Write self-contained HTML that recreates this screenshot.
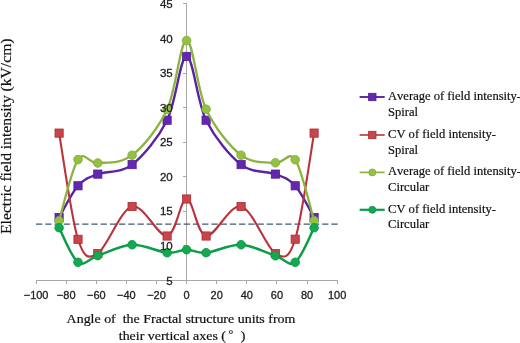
<!DOCTYPE html>
<html><head><meta charset="utf-8"><title>chart</title>
<style>
html,body{margin:0;padding:0;background:#fff;}
#c{position:relative;width:520px;height:343px;overflow:hidden;background:#fff;}
.t{position:absolute;white-space:nowrap;color:#1a1a1a;font-kerning:none;}
.yl,.xl{font-family:"Liberation Sans",sans-serif;font-size:11px;line-height:12px;color:#222;-webkit-text-stroke:0.3px #222;}
.yl{text-align:right;width:30px;font-size:11.5px;}
.xl{text-align:center;width:40px;}
.lg{font-family:"Liberation Serif",serif;font-size:12.4px;line-height:15.5px;color:#111;transform-origin:0 0;transform:scaleX(1.015);-webkit-text-stroke:0.2px #111;}
.ax{font-family:"Liberation Serif","Noto Serif CJK SC",serif;font-size:12.4px;line-height:16.4px;text-align:center;color:#111;transform-origin:50% 0;transform:scaleX(1.125);-webkit-text-stroke:0.2px #111;}
.ya{font-family:"Liberation Serif",serif;font-size:15.7px;word-spacing:-0.3px;line-height:18px;color:#111;transform-origin:0 0;transform:rotate(-90deg) scaleY(0.94);-webkit-text-stroke:0.2px #111;}
</style></head><body><div id="c">
<svg width="520" height="343" viewBox="0 0 520 343" style="position:absolute;left:0;top:0">
<g stroke="#a8a8a8" stroke-width="1" fill="none" shape-rendering="crispEdges">
<line x1="36.1" y1="280.4" x2="337.1" y2="280.4"/>
<line x1="186.6" y1="3.9" x2="186.6" y2="280.4"/>
<line x1="36.1" y1="280.4" x2="36.1" y2="283.9"/>
<line x1="66.2" y1="280.4" x2="66.2" y2="283.9"/>
<line x1="96.3" y1="280.4" x2="96.3" y2="283.9"/>
<line x1="126.4" y1="280.4" x2="126.4" y2="283.9"/>
<line x1="156.5" y1="280.4" x2="156.5" y2="283.9"/>
<line x1="186.6" y1="280.4" x2="186.6" y2="283.9"/>
<line x1="216.7" y1="280.4" x2="216.7" y2="283.9"/>
<line x1="246.8" y1="280.4" x2="246.8" y2="283.9"/>
<line x1="276.9" y1="280.4" x2="276.9" y2="283.9"/>
<line x1="307.0" y1="280.4" x2="307.0" y2="283.9"/>
<line x1="337.1" y1="280.4" x2="337.1" y2="283.9"/>
<line x1="183.1" y1="280.4" x2="186.6" y2="280.4"/>
<line x1="183.1" y1="245.8" x2="186.6" y2="245.8"/>
<line x1="183.1" y1="211.3" x2="186.6" y2="211.3"/>
<line x1="183.1" y1="176.7" x2="186.6" y2="176.7"/>
<line x1="183.1" y1="142.1" x2="186.6" y2="142.1"/>
<line x1="183.1" y1="107.6" x2="186.6" y2="107.6"/>
<line x1="183.1" y1="73.0" x2="186.6" y2="73.0"/>
<line x1="183.1" y1="38.4" x2="186.6" y2="38.4"/>
<line x1="183.1" y1="3.9" x2="186.6" y2="3.9"/>
</g>
<line x1="36" y1="224.1" x2="338" y2="224.1" stroke="#3f5878" stroke-width="1.15" stroke-dasharray="6.3 2.93"/>
<path d="M59.10 217.60 C62.25 212.30 71.55 193.05 78.00 185.80 C84.45 178.55 88.78 177.63 97.80 174.10 C106.82 170.57 120.55 173.58 132.10 164.60 C143.65 155.62 158.02 138.23 167.10 120.20 C176.18 102.17 180.10 56.40 186.60 56.40 C193.10 56.40 197.02 102.17 206.10 120.20 C215.18 138.23 229.55 155.62 241.10 164.60 C252.65 173.58 266.38 170.57 275.40 174.10 C284.42 177.63 288.75 178.55 295.20 185.80 C301.65 193.05 310.95 212.30 314.10 217.60" fill="none" stroke="#5a22a4" stroke-width="2.4" stroke-linejoin="round" stroke-linecap="round"/>
<rect x="55.00" y="213.50" width="8.20" height="8.20" fill="#6527b0" stroke="#4f1e9a" stroke-width="0.8"/><rect x="73.90" y="181.70" width="8.20" height="8.20" fill="#6527b0" stroke="#4f1e9a" stroke-width="0.8"/><rect x="93.70" y="170.00" width="8.20" height="8.20" fill="#6527b0" stroke="#4f1e9a" stroke-width="0.8"/><rect x="128.00" y="160.50" width="8.20" height="8.20" fill="#6527b0" stroke="#4f1e9a" stroke-width="0.8"/><rect x="163.00" y="116.10" width="8.20" height="8.20" fill="#6527b0" stroke="#4f1e9a" stroke-width="0.8"/><rect x="182.50" y="52.30" width="8.20" height="8.20" fill="#6527b0" stroke="#4f1e9a" stroke-width="0.8"/><rect x="202.00" y="116.10" width="8.20" height="8.20" fill="#6527b0" stroke="#4f1e9a" stroke-width="0.8"/><rect x="237.00" y="160.50" width="8.20" height="8.20" fill="#6527b0" stroke="#4f1e9a" stroke-width="0.8"/><rect x="271.30" y="170.00" width="8.20" height="8.20" fill="#6527b0" stroke="#4f1e9a" stroke-width="0.8"/><rect x="291.10" y="181.70" width="8.20" height="8.20" fill="#6527b0" stroke="#4f1e9a" stroke-width="0.8"/><rect x="310.00" y="213.50" width="8.20" height="8.20" fill="#6527b0" stroke="#4f1e9a" stroke-width="0.8"/>
<path d="M59.10 133.10 C62.25 150.80 71.55 219.23 78.00 239.30 C84.45 259.37 88.78 258.97 97.80 253.50 C106.82 248.03 120.55 209.42 132.10 206.50 C143.65 203.58 158.02 237.25 167.10 236.00 C176.18 234.75 180.10 199.00 186.60 199.00 C193.10 199.00 197.02 234.75 206.10 236.00 C215.18 237.25 229.55 203.58 241.10 206.50 C252.65 209.42 266.38 248.05 275.40 253.50 C284.42 258.95 288.75 259.27 295.20 239.20 C301.65 219.13 310.95 150.78 314.10 133.10" fill="none" stroke="#b9333b" stroke-width="2.1" stroke-linejoin="round" stroke-linecap="round"/>
<rect x="55.00" y="129.00" width="8.20" height="8.20" fill="#c8464a" stroke="#ab2c36" stroke-width="0.8"/><rect x="73.90" y="235.20" width="8.20" height="8.20" fill="#c8464a" stroke="#ab2c36" stroke-width="0.8"/><rect x="93.70" y="249.40" width="8.20" height="8.20" fill="#c8464a" stroke="#ab2c36" stroke-width="0.8"/><rect x="128.00" y="202.40" width="8.20" height="8.20" fill="#c8464a" stroke="#ab2c36" stroke-width="0.8"/><rect x="163.00" y="231.90" width="8.20" height="8.20" fill="#c8464a" stroke="#ab2c36" stroke-width="0.8"/><rect x="182.50" y="194.90" width="8.20" height="8.20" fill="#c8464a" stroke="#ab2c36" stroke-width="0.8"/><rect x="202.00" y="231.90" width="8.20" height="8.20" fill="#c8464a" stroke="#ab2c36" stroke-width="0.8"/><rect x="237.00" y="202.40" width="8.20" height="8.20" fill="#c8464a" stroke="#ab2c36" stroke-width="0.8"/><rect x="271.30" y="249.40" width="8.20" height="8.20" fill="#c8464a" stroke="#ab2c36" stroke-width="0.8"/><rect x="291.10" y="235.10" width="8.20" height="8.20" fill="#c8464a" stroke="#ab2c36" stroke-width="0.8"/><rect x="310.00" y="129.00" width="8.20" height="8.20" fill="#c8464a" stroke="#ab2c36" stroke-width="0.8"/>
<path d="M59.10 220.60 C62.25 210.43 71.55 169.20 78.00 159.60 C84.45 150.00 88.78 163.73 97.80 163.00 C106.82 162.27 120.55 164.12 132.10 155.20 C143.65 146.28 158.02 128.62 167.10 109.50 C176.18 90.38 180.10 40.55 186.60 40.50 C193.10 40.45 197.02 90.08 206.10 109.20 C215.18 128.32 229.55 146.27 241.10 155.20 C252.65 164.13 266.38 162.05 275.40 162.80 C284.42 163.55 288.75 150.07 295.20 159.70 C301.65 169.33 310.95 210.45 314.10 220.60" fill="none" stroke="#8db33e" stroke-width="2.3" stroke-linejoin="round" stroke-linecap="round"/>
<circle cx="59.10" cy="220.60" r="4.30" fill="#93c144" stroke="#82a838" stroke-width="0.8"/><circle cx="78.00" cy="159.60" r="4.30" fill="#93c144" stroke="#82a838" stroke-width="0.8"/><circle cx="97.80" cy="163.00" r="4.30" fill="#93c144" stroke="#82a838" stroke-width="0.8"/><circle cx="132.10" cy="155.20" r="4.30" fill="#93c144" stroke="#82a838" stroke-width="0.8"/><circle cx="167.10" cy="109.50" r="4.30" fill="#93c144" stroke="#82a838" stroke-width="0.8"/><circle cx="186.60" cy="40.50" r="4.30" fill="#93c144" stroke="#82a838" stroke-width="0.8"/><circle cx="206.10" cy="109.20" r="4.30" fill="#93c144" stroke="#82a838" stroke-width="0.8"/><circle cx="241.10" cy="155.20" r="4.30" fill="#93c144" stroke="#82a838" stroke-width="0.8"/><circle cx="275.40" cy="162.80" r="4.30" fill="#93c144" stroke="#82a838" stroke-width="0.8"/><circle cx="295.20" cy="159.70" r="4.30" fill="#93c144" stroke="#82a838" stroke-width="0.8"/><circle cx="314.10" cy="220.60" r="4.30" fill="#93c144" stroke="#82a838" stroke-width="0.8"/>
<path d="M59.10 227.70 C62.25 233.47 71.55 257.65 78.00 262.30 C84.45 266.95 88.78 258.53 97.80 255.60 C106.82 252.67 120.55 245.18 132.10 244.70 C143.65 244.22 158.02 251.87 167.10 252.70 C176.18 253.53 180.10 249.70 186.60 249.70 C193.10 249.70 197.02 253.53 206.10 252.70 C215.18 251.87 229.55 244.18 241.10 244.70 C252.65 245.22 266.38 252.87 275.40 255.80 C284.42 258.73 288.75 266.98 295.20 262.30 C301.65 257.62 310.95 233.47 314.10 227.70" fill="none" stroke="#0d9c48" stroke-width="2.5" stroke-linejoin="round" stroke-linecap="round"/>
<circle cx="59.10" cy="227.70" r="4.30" fill="#12aa50" stroke="#0b9042" stroke-width="0.8"/><circle cx="78.00" cy="262.30" r="4.30" fill="#12aa50" stroke="#0b9042" stroke-width="0.8"/><circle cx="97.80" cy="255.60" r="4.30" fill="#12aa50" stroke="#0b9042" stroke-width="0.8"/><circle cx="132.10" cy="244.70" r="4.30" fill="#12aa50" stroke="#0b9042" stroke-width="0.8"/><circle cx="167.10" cy="252.70" r="4.30" fill="#12aa50" stroke="#0b9042" stroke-width="0.8"/><circle cx="186.60" cy="249.70" r="4.30" fill="#12aa50" stroke="#0b9042" stroke-width="0.8"/><circle cx="206.10" cy="252.70" r="4.30" fill="#12aa50" stroke="#0b9042" stroke-width="0.8"/><circle cx="241.10" cy="244.70" r="4.30" fill="#12aa50" stroke="#0b9042" stroke-width="0.8"/><circle cx="275.40" cy="255.80" r="4.30" fill="#12aa50" stroke="#0b9042" stroke-width="0.8"/><circle cx="295.20" cy="262.30" r="4.30" fill="#12aa50" stroke="#0b9042" stroke-width="0.8"/><circle cx="314.10" cy="227.70" r="4.30" fill="#12aa50" stroke="#0b9042" stroke-width="0.8"/>
<line x1="359.6" y1="97.0" x2="384.7" y2="97.0" stroke="#5a22a4" stroke-width="1.9"/>
<rect x="368.60" y="93.30" width="7.40" height="7.40" fill="#6527b0" stroke="#4f1e9a" stroke-width="0.8"/>
<line x1="359.6" y1="135.0" x2="384.7" y2="135.0" stroke="#b9333b" stroke-width="1.6"/>
<rect x="368.60" y="131.30" width="7.40" height="7.40" fill="#c8464a" stroke="#ab2c36" stroke-width="0.8"/>
<line x1="359.6" y1="172.4" x2="384.7" y2="172.4" stroke="#8db33e" stroke-width="1.7"/>
<circle cx="372.30" cy="172.40" r="3.50" fill="#93c144" stroke="#82a838" stroke-width="0.8"/>
<line x1="359.6" y1="209.8" x2="384.7" y2="209.8" stroke="#0d9c48" stroke-width="2.2"/>
<circle cx="372.30" cy="209.80" r="3.50" fill="#12aa50" stroke="#0b9042" stroke-width="0.8"/>
</svg>
<div class="t yl" style="left:142.7px;top:274.5px">5</div>
<div class="t yl" style="left:142.7px;top:240.0px">10</div>
<div class="t yl" style="left:142.7px;top:205.4px">15</div>
<div class="t yl" style="left:142.7px;top:170.8px">20</div>
<div class="t yl" style="left:142.7px;top:136.3px">25</div>
<div class="t yl" style="left:142.7px;top:101.7px">30</div>
<div class="t yl" style="left:142.7px;top:67.1px">35</div>
<div class="t yl" style="left:142.7px;top:32.6px">40</div>
<div class="t yl" style="left:142.7px;top:-2.0px">45</div>
<div class="t xl" style="left:16.1px;top:288.5px">−100</div>
<div class="t xl" style="left:46.2px;top:288.5px">−80</div>
<div class="t xl" style="left:76.3px;top:288.5px">−60</div>
<div class="t xl" style="left:106.4px;top:288.5px">−40</div>
<div class="t xl" style="left:136.5px;top:288.5px">−20</div>
<div class="t xl" style="left:166.6px;top:288.5px">0</div>
<div class="t xl" style="left:196.7px;top:288.5px">20</div>
<div class="t xl" style="left:226.8px;top:288.5px">40</div>
<div class="t xl" style="left:256.9px;top:288.5px">60</div>
<div class="t xl" style="left:287.0px;top:288.5px">80</div>
<div class="t xl" style="left:317.1px;top:288.5px">100</div>
<div class="t lg" style="left:387.5px;top:89.0px">Average of field intensity-<br>Spiral</div>
<div class="t lg" style="left:387.5px;top:127.0px">CV of field intensity-<br>Spiral</div>
<div class="t lg" style="left:387.5px;top:164.4px">Average of field intensity-<br>Circular</div>
<div class="t lg" style="left:387.5px;top:201.8px">CV of field intensity-<br>Circular</div>
<div class="t ax" style="left:31px;width:300px;top:310.7px">Angle of&nbsp; the Fractal structure units from<br><span style="position:relative;left:1px">their vertical axes (<span style="display:inline-block;width:13.2px;text-align:left;text-indent:2.2px"><span style="font-size:10.5px;vertical-align:1.8px">°</span></span>)</span></div>
<div class="t ya" id="ya" style="left:-2.2px;top:234.2px">Electric field intensity (kV/cm)</div>
</div></body></html>
